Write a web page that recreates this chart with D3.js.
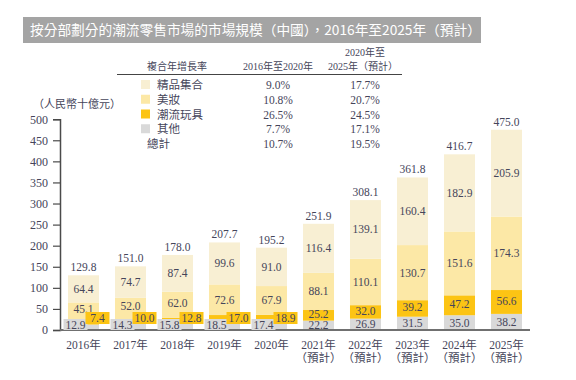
<!DOCTYPE html>
<html>
<head>
<meta charset="utf-8">
<script src="https://cdn.jsdelivr.net/npm/d3@7"></script>
<style>
  body { margin: 0; background: #fff; }
  svg text { fill: #45455a; }
  .serif { font-family: "Liberation Serif", "Noto Sans CJK TC", serif; }
  .cjk { font-family: "Liberation Serif", "Noto Sans CJK TC", serif; }
</style>
</head>
<body>
<div id="chart"></div>
<script>
// chart data
const years = ["2016年", "2017年", "2018年", "2019年", "2020年", "2021年", "2022年", "2023年", "2024年", "2025年"];
const forecast = [false, false, false, false, false, true, true, true, true, true];
const other = [12.9, 14.3, 15.8, 18.5, 17.4, 22.2, 26.9, 31.5, 35.0, 38.2];
const toys = [7.4, 10.0, 12.8, 17.0, 18.9, 25.2, 32.0, 39.2, 47.2, 56.6];
const beauty = [45.1, 52.0, 62.0, 72.6, 67.9, 88.1, 110.1, 130.7, 151.6, 174.3];
const select = [64.4, 74.7, 87.4, 99.6, 91.0, 116.4, 139.1, 160.4, 182.9, 205.9];
const totals = [129.8, 151.0, 178.0, 207.7, 195.2, 251.9, 308.1, 361.8, 416.7, 475.0];
const yTicks = [0, 50, 100, 150, 200, 250, 300, 350, 400, 450, 500];

// legend table
const segNames = ["精品集合", "美妝", "潮流玩具", "其他"];
const cagrA = ["9.0%", "10.8%", "26.5%", "7.7%"];
const cagrB = ["17.7%", "20.7%", "24.5%", "17.1%"];
const totalName = "總計";
const totalA = "10.7%";
const totalB = "19.5%";

const colors = ["#f8efd3", "#fce8a6", "#fcc414", "#d9d9d9"];

const width = 576, height = 380;

const svg = d3.select("#chart").append("svg")
    .attr("width", width)
    .attr("height", height);

// title bar
svg.append("rect")
    .attr("x", 23).attr("y", 17)
    .attr("width", 458).attr("height", 26)
    .attr("fill", "#a4a4a4");
svg.append("text")
    .attr("x", 30).attr("y", 35)
    .style("font-family", "'Noto Sans CJK TC', sans-serif")
    .style("font-size", "13.7px")
    .style("fill", "#fff")
    .text("按分部劃分的潮流零售市場的市場規模（中國），2016年至2025年（預計）");

// scales
const x = d3.scaleBand()
    .domain(years)
    .range([60, 530])
    .paddingInner(0.34)
    .paddingOuter(0.17);

const y = d3.scaleLinear()
    .domain([0, 500])
    .range([330, 119.2]);

// stacked series (bottom to top: other, toys, beauty, select)
const rows = years.map((yr, i) => ({
    year: yr, other: other[i], toys: toys[i], beauty: beauty[i], select: select[i]
}));
const keys = ["other", "toys", "beauty", "select"];
const keyColor = { select: colors[0], beauty: colors[1], toys: colors[2], other: colors[3] };
const stack = d3.stack().keys(keys)(rows);

const layers = svg.append("g").selectAll("g")
    .data(stack)
    .enter().append("g")
    .attr("fill", d => keyColor[d.key]);

layers.selectAll("rect")
    .data(d => d)
    .enter().append("rect")
    .attr("x", d => x(d.data.year))
    .attr("width", x.bandwidth())
    .attr("y", d => y(d[1]))
    .attr("height", d => y(d[0]) - y(d[1]));

// y axis
const yAxis = svg.append("g")
    .attr("transform", "translate(60,0)")
    .call(d3.axisLeft(y).tickValues(yTicks).tickSize(7).tickPadding(5).tickFormat(d3.format("d")));
yAxis.select(".domain").attr("stroke", "#4a4a4a").attr("stroke-width", 1.5);
yAxis.selectAll(".tick line").attr("stroke", "#4a4a4a").attr("stroke-width", 1.2);
yAxis.selectAll(".tick text")
    .attr("class", "serif")
    .style("font-size", "12px")
    .style("fill", "#45455a");

svg.append("text")
    .attr("class", "cjk")
    .attr("x", 33).attr("y", 108)
    .style("font-size", "11px")
    .text("（人民幣十億元）");

// bottom axis line
svg.append("line")
    .attr("x1", 60).attr("x2", 530)
    .attr("y1", 330).attr("y2", 330)
    .attr("stroke", "#707070")
    .attr("stroke-width", 2);

// x labels
const xl = svg.append("g").selectAll("text")
    .data(years)
    .enter().append("text")
    .attr("class", "cjk")
    .attr("text-anchor", "middle")
    .attr("x", d => x(d) + x.bandwidth() / 2)
    .attr("y", 349)
    .style("font-size", "11.5px");
xl.append("tspan").text(d => d);
xl.filter((d, i) => forecast[i]).append("tspan")
    .attr("x", d => x(d) + x.bandwidth() / 2)
    .attr("dy", 13)
    .text("（預計）");

// value labels
const labels = svg.append("g").attr("class", "serif").style("font-size", "11.5px");
const cx = i => x(years[i]) + x.bandwidth() / 2;

rows.forEach((r, i) => {
    const base = [0, r.other, r.other + r.toys, r.other + r.toys + r.beauty, totals[i]];
    // select label centred in segment
    labels.append("text")
        .attr("x", cx(i))
        .attr("y", (y(base[3]) + y(base[4])) / 2 + 4)
        .attr("text-anchor", "middle")
        .text(select[i].toFixed(1));
    // beauty label: keep clear of the boxed labels in 2016-2020
    const bBottom = forecast[i] ? y(base[2]) : Math.min(y(base[2]), 315);
    labels.append("text")
        .attr("x", cx(i))
        .attr("y", (y(base[3]) + bBottom) / 2 + 4)
        .attr("text-anchor", "middle")
        .text(beauty[i].toFixed(1));
    // totals
    labels.append("text")
        .attr("x", cx(i))
        .attr("y", y(totals[i]) - 4)
        .attr("text-anchor", "middle")
        .text(totals[i].toFixed(1));

    if (!forecast[i]) {
        // boxed labels beside small segments
        const gx = cx(i) - 8, tx = cx(i) + 14;
        labels.append("rect")
            .attr("x", gx - 12).attr("y", 319)
            .attr("width", 24).attr("height", 11)
            .attr("fill", colors[3]);
        labels.append("text")
            .attr("x", gx).attr("y", 328.5)
            .attr("text-anchor", "middle")
            .text(other[i].toFixed(1));
        labels.append("rect")
            .attr("x", tx - 12).attr("y", 312)
            .attr("width", 24).attr("height", 12)
            .attr("fill", colors[2]);
        labels.append("text")
            .attr("x", tx).attr("y", 322)
            .attr("text-anchor", "middle")
            .text(toys[i].toFixed(1));
    } else {
        labels.append("text")
            .attr("x", cx(i))
            .attr("y", Math.min((y(base[0]) + y(base[1])) / 2 + 4, 329))
            .attr("text-anchor", "middle")
            .text(other[i].toFixed(1));
        labels.append("text")
            .attr("x", cx(i))
            .attr("y", (y(base[1]) + y(base[2])) / 2 + 3)
            .attr("text-anchor", "middle")
            .text(toys[i].toFixed(1));
    }
});

// legend table
const tbl = svg.append("g").attr("class", "cjk");
tbl.append("line")
    .attr("x1", 117).attr("x2", 402)
    .attr("y1", 74.5).attr("y2", 74.5)
    .attr("stroke", "#444").attr("stroke-width", 1.2);

tbl.append("text").attr("x", 177).attr("y", 70).attr("text-anchor", "middle")
    .style("font-size", "10px").text("複合年增長率");
tbl.append("text").attr("x", 278).attr("y", 70).attr("text-anchor", "middle")
    .style("font-size", "10px").text("2016年至2020年");
tbl.append("text").attr("x", 365).attr("y", 56).attr("text-anchor", "middle")
    .style("font-size", "10px").text("2020年至");
tbl.append("text").attr("x", 363).attr("y", 70).attr("text-anchor", "middle")
    .style("font-size", "10px").text("2025年（預計）");

const rowY = d3.scalePoint().domain(d3.range(5)).range([85, 144]);

segNames.forEach((name, i) => {
    const ry = rowY(i);
    tbl.append("rect")
        .attr("x", 141).attr("y", ry - 5)
        .attr("width", 9).attr("height", 9)
        .attr("fill", colors[i]);
    tbl.append("text").attr("x", 157).attr("y", ry + 4)
        .style("font-size", "11.5px").text(name);
    tbl.append("text").attr("x", 278).attr("y", ry + 4).attr("text-anchor", "middle")
        .style("font-size", "11.5px").text(cagrA[i]);
    tbl.append("text").attr("x", 365).attr("y", ry + 4).attr("text-anchor", "middle")
        .style("font-size", "11.5px").text(cagrB[i]);
});
tbl.append("text").attr("x", 147).attr("y", rowY(4) + 4)
    .style("font-size", "11.5px").text(totalName);
tbl.append("text").attr("x", 278).attr("y", rowY(4) + 4).attr("text-anchor", "middle")
    .style("font-size", "11.5px").text(totalA);
tbl.append("text").attr("x", 365).attr("y", rowY(4) + 4).attr("text-anchor", "middle")
    .style("font-size", "11.5px").text(totalB);
</script>
</body>
</html>
